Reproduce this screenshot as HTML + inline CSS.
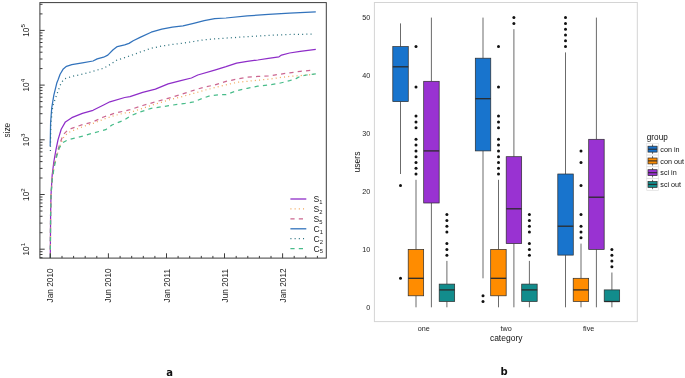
<!DOCTYPE html>
<html><head><meta charset="utf-8"><title>figure</title>
<style>html,body{margin:0;padding:0;background:#fff}svg{display:block}</style></head>
<body><svg width="685" height="378" viewBox="0 0 685 378">
<rect width="685" height="378" fill="#fff"/>
<g fill="none" stroke-width="1.25" stroke-linejoin="round">
<polyline points="50.3,258.0 50.6,215.0 51.0,195.0 52.2,175.0 53.8,162.0 55.9,150.0 58.0,139.9 61.2,129.3 65.4,121.9 71.8,117.7 82.4,113.4 93.0,110.3 103.6,105.0 109.9,101.8 124.7,97.5 130.0,96.6 142.7,92.4 155.4,89.2 168.1,83.9 180.8,80.7 191.4,78.0 197.8,75.0 214.7,70.1 226.0,66.7 236.6,63.1 247.2,61.4 257.8,60.0 268.4,58.3 279.0,56.8 281.5,55.1 289.6,53.0 300.2,51.3 315.8,49.4" stroke="#8E2DC8"/>
<polyline points="50.3,258.0 50.6,215.0 51.0,195.0 52.4,177.0 54.4,165.0 57.2,154.5 60.1,145.2 63.3,137.8 67.5,133.1 71.8,131.0 82.4,126.8 93.0,123.4 103.6,119.2 114.2,115.6 124.7,113.0 130.0,112.5 142.7,108.3 155.4,104.0 168.1,100.2 180.8,97.0 193.6,93.4 204.2,90.3 214.7,87.7 226.0,84.9 236.6,82.4 247.2,81.3 257.8,80.3 268.4,79.2 279.0,77.7 289.6,76.4 300.2,75.6 314.0,74.3" stroke="#F2A85C" stroke-dasharray="1.05 3.15"/>
<polyline points="50.3,258.0 50.6,215.0 51.0,195.0 52.4,176.0 54.2,164.0 57.0,153.0 60.1,143.0 63.3,134.6 67.5,130.4 71.8,128.3 82.4,124.7 93.0,121.9 103.6,117.0 114.2,113.4 124.7,110.9 130.0,109.7 142.7,105.5 155.4,101.9 168.1,98.3 180.8,94.5 193.6,90.3 204.2,87.1 214.7,85.0 226.0,81.3 236.6,79.2 247.2,77.1 257.8,76.4 268.4,76.0 279.0,74.3 289.6,72.8 300.2,71.4 314.0,70.1" stroke="#CC6690" stroke-dasharray="4.2 4.2"/>
<polyline points="50.2,146.3 50.6,123.0 51.7,108.1 53.8,95.4 56.9,82.7 58.0,80.0 60.1,74.2 63.3,68.9 66.5,66.3 71.8,64.6 82.4,62.9 93.0,61.0 97.2,58.9 103.6,57.2 107.8,55.1 113.1,49.8 117.3,46.6 124.7,44.9 129.0,43.4 133.2,40.7 140.6,37.1 151.2,32.2 161.8,29.2 172.4,27.1 183.0,25.8 193.6,23.3 204.2,20.6 214.7,18.6 226.0,18.0 247.2,15.9 268.4,14.4 289.6,13.1 315.8,11.9" stroke="#3273BC"/>
<polyline points="50.4,151.0 50.8,125.0 52.7,106.0 58.0,91.2 61.2,82.7 64.4,78.9 71.8,76.4 82.4,74.2 93.0,71.3 103.6,68.2 110.0,64.6 116.3,60.4 124.7,57.6 133.2,54.7 140.6,51.9 151.2,48.3 161.8,46.0 172.4,44.5 183.0,43.2 193.6,41.5 204.2,39.8 214.7,38.8 226.0,38.1 247.2,36.7 268.4,35.4 289.6,34.5 314.0,34.1" stroke="#2F7480" stroke-dasharray="1.05 3.15"/>
<polyline points="50.3,258.0 50.6,215.0 51.0,196.0 52.2,180.0 54.0,168.0 56.5,157.0 59.1,148.4 62.2,143.0 67.5,140.0 78.1,137.4 93.0,133.1 105.7,129.7 112.0,125.0 124.7,119.8 130.0,116.1 138.5,112.5 151.2,108.3 161.8,106.8 172.4,105.1 185.1,103.4 193.6,101.9 204.2,97.7 210.5,95.6 221.1,94.5 226.0,94.7 236.6,90.8 247.2,88.3 257.8,86.2 268.4,85.1 279.0,83.4 289.6,80.7 296.0,78.6 300.2,76.4 306.5,75.0 315.8,73.9" stroke="#48BC8A" stroke-dasharray="4.2 4.2"/>
</g>
<rect x="39.9" y="2.6" width="286.4" height="255.5" fill="none" stroke="#3c3c3c" stroke-width="1"/>
<path d="M39.9 257.7h2.6M39.9 254.5h2.6M39.9 251.7h2.6M39.9 249.2h4.8M39.9 232.7h2.6M39.9 223.1h2.6M39.9 216.3h2.6M39.9 211.0h2.6M39.9 206.6h2.6M39.9 203.0h2.6M39.9 199.8h2.6M39.9 197.0h2.6M39.9 194.5h4.8M39.9 178.0h2.6M39.9 168.4h2.6M39.9 161.6h2.6M39.9 156.3h2.6M39.9 151.9h2.6M39.9 148.3h2.6M39.9 145.1h2.6M39.9 142.3h2.6M39.9 139.8h4.8M39.9 123.3h2.6M39.9 113.7h2.6M39.9 106.9h2.6M39.9 101.6h2.6M39.9 97.2h2.6M39.9 93.6h2.6M39.9 90.4h2.6M39.9 87.6h2.6M39.9 85.1h4.8M39.9 68.6h2.6M39.9 59.0h2.6M39.9 52.2h2.6M39.9 46.9h2.6M39.9 42.5h2.6M39.9 38.9h2.6M39.9 35.7h2.6M39.9 32.9h2.6M39.9 30.4h4.8M39.9 13.9h2.6M39.9 4.3h2.6M50.4 258.1v-4.8M62.0 258.1v-2.2M73.6 258.1v-2.2M85.2 258.1v-2.2M96.8 258.1v-2.2M108.4 258.1v-4.8M120.1 258.1v-2.2M131.7 258.1v-2.2M143.3 258.1v-2.2M154.9 258.1v-2.2M166.5 258.1v-4.8M178.1 258.1v-2.2M189.7 258.1v-2.2M201.3 258.1v-2.2M212.9 258.1v-2.2M224.5 258.1v-4.8M236.2 258.1v-2.2M247.8 258.1v-2.2M259.4 258.1v-2.2M271.0 258.1v-2.2M282.6 258.1v-4.8M294.2 258.1v-2.2M305.8 258.1v-2.2M317.4 258.1v-2.2" stroke="#3c3c3c" stroke-width="1" fill="none"/>
<g font-family="Liberation Sans, sans-serif" font-size="8.3" fill="#222">
<text transform="translate(28.6 255.6) rotate(-90)">10<tspan font-size="6.2" dy="-3.2">1</tspan></text>
<text transform="translate(28.6 200.9) rotate(-90)">10<tspan font-size="6.2" dy="-3.2">2</tspan></text>
<text transform="translate(28.6 146.2) rotate(-90)">10<tspan font-size="6.2" dy="-3.2">3</tspan></text>
<text transform="translate(28.6 91.5) rotate(-90)">10<tspan font-size="6.2" dy="-3.2">4</tspan></text>
<text transform="translate(28.6 36.8) rotate(-90)">10<tspan font-size="6.2" dy="-3.2">5</tspan></text>
<text transform="translate(53.4 302.5) rotate(-90)">Jan 2010</text>
<text transform="translate(111.4 302.5) rotate(-90)">Jun 2010</text>
<text transform="translate(169.5 302.5) rotate(-90)">Jan 2011</text>
<text transform="translate(227.5 302.5) rotate(-90)">Jun 2011</text>
<text transform="translate(285.6 302.5) rotate(-90)">Jan 2012</text>
<text transform="translate(10 137.6) rotate(-90)">size</text>
<text x="313.5" y="202.0" font-size="8.6">S<tspan font-size="5.8" dy="1.8">1</tspan></text>
<text x="313.5" y="211.9" font-size="8.6">S<tspan font-size="5.8" dy="1.8">2</tspan></text>
<text x="313.5" y="221.8" font-size="8.6">S<tspan font-size="5.8" dy="1.8">5</tspan></text>
<text x="313.5" y="231.8" font-size="8.6">C<tspan font-size="5.8" dy="1.8">1</tspan></text>
<text x="313.5" y="241.7" font-size="8.6">C<tspan font-size="5.8" dy="1.8">2</tspan></text>
<text x="313.5" y="251.6" font-size="8.6">C<tspan font-size="5.8" dy="1.8">5</tspan></text>
</g>
<g fill="none" stroke-width="1.3">
<path d="M290.4 199.0H306.3" stroke="#8E2DC8"/>
<path d="M290.4 208.9H306.3" stroke="#F2A85C" stroke-dasharray="1.05 3.15"/>
<path d="M290.4 218.8H306.3" stroke="#CC6690" stroke-dasharray="4.2 4.2"/>
<path d="M290.4 228.8H306.3" stroke="#3273BC"/>
<path d="M290.4 238.7H306.3" stroke="#2F7480" stroke-dasharray="1.05 3.15"/>
<path d="M290.4 248.6H306.3" stroke="#48BC8A" stroke-dasharray="4.2 4.2"/>
</g>
<text x="169.5" y="375.6" text-anchor="middle" font-family="DejaVu Sans, sans-serif" font-weight="bold" font-size="10" fill="#111">a</text>
<rect x="374.4" y="2.5" width="262.9" height="319.1" fill="#fff" stroke="#d4d4d4" stroke-width="1"/>
<path d="M400.5 23.4V46.6M400.5 101.6V174.0" stroke="#2b2b2b" stroke-width="0.7" fill="none"/>
<rect x="392.8" y="46.6" width="15.47" height="55.0" fill="#1874CD" stroke="#2b2b2b" stroke-width="0.7"/>
<path d="M392.8 66.8h15.47" stroke="#2b2b2b" stroke-width="1.3" fill="none"/>
<circle cx="400.5" cy="185.6" r="1.5" fill="#111"/>
<circle cx="400.5" cy="278.3" r="1.5" fill="#111"/>
<path d="M416.0 179.8V249.4M416.0 295.7V307.3" stroke="#2b2b2b" stroke-width="0.7" fill="none"/>
<rect x="408.2" y="249.4" width="15.47" height="46.4" fill="#FF8C00" stroke="#2b2b2b" stroke-width="0.7"/>
<path d="M408.2 278.3h15.47" stroke="#2b2b2b" stroke-width="1.3" fill="none"/>
<circle cx="416.0" cy="46.6" r="1.5" fill="#111"/>
<circle cx="416.0" cy="87.1" r="1.5" fill="#111"/>
<circle cx="416.0" cy="116.1" r="1.5" fill="#111"/>
<circle cx="416.0" cy="121.9" r="1.5" fill="#111"/>
<circle cx="416.0" cy="127.7" r="1.5" fill="#111"/>
<circle cx="416.0" cy="139.3" r="1.5" fill="#111"/>
<circle cx="416.0" cy="145.1" r="1.5" fill="#111"/>
<circle cx="416.0" cy="150.9" r="1.5" fill="#111"/>
<circle cx="416.0" cy="156.7" r="1.5" fill="#111"/>
<circle cx="416.0" cy="162.5" r="1.5" fill="#111"/>
<circle cx="416.0" cy="168.2" r="1.5" fill="#111"/>
<circle cx="416.0" cy="174.0" r="1.5" fill="#111"/>
<path d="M431.4 17.6V81.3M431.4 203.0V307.3" stroke="#2b2b2b" stroke-width="0.7" fill="none"/>
<rect x="423.7" y="81.3" width="15.47" height="121.7" fill="#9932D2" stroke="#2b2b2b" stroke-width="0.7"/>
<path d="M423.7 150.9h15.47" stroke="#2b2b2b" stroke-width="1.3" fill="none"/>
<path d="M446.9 260.9V284.1M446.9 301.5V307.3" stroke="#2b2b2b" stroke-width="0.7" fill="none"/>
<rect x="439.2" y="284.1" width="15.47" height="17.4" fill="#128C8C" stroke="#2b2b2b" stroke-width="0.7"/>
<path d="M439.2 289.9h15.47" stroke="#2b2b2b" stroke-width="1.3" fill="none"/>
<circle cx="446.9" cy="214.6" r="1.5" fill="#111"/>
<circle cx="446.9" cy="220.4" r="1.5" fill="#111"/>
<circle cx="446.9" cy="226.2" r="1.5" fill="#111"/>
<circle cx="446.9" cy="232.0" r="1.5" fill="#111"/>
<circle cx="446.9" cy="243.6" r="1.5" fill="#111"/>
<circle cx="446.9" cy="249.4" r="1.5" fill="#111"/>
<circle cx="446.9" cy="255.2" r="1.5" fill="#111"/>
<path d="M483.0 17.6V58.2M483.0 150.9V278.3" stroke="#2b2b2b" stroke-width="0.7" fill="none"/>
<rect x="475.3" y="58.2" width="15.47" height="92.7" fill="#1874CD" stroke="#2b2b2b" stroke-width="0.7"/>
<path d="M475.3 98.7h15.47" stroke="#2b2b2b" stroke-width="1.3" fill="none"/>
<circle cx="483.0" cy="295.7" r="1.5" fill="#111"/>
<circle cx="483.0" cy="301.5" r="1.5" fill="#111"/>
<path d="M498.5 179.8V249.4M498.5 295.7V307.3" stroke="#2b2b2b" stroke-width="0.7" fill="none"/>
<rect x="490.7" y="249.4" width="15.47" height="46.4" fill="#FF8C00" stroke="#2b2b2b" stroke-width="0.7"/>
<path d="M490.7 278.3h15.47" stroke="#2b2b2b" stroke-width="1.3" fill="none"/>
<circle cx="498.5" cy="46.6" r="1.5" fill="#111"/>
<circle cx="498.5" cy="87.1" r="1.5" fill="#111"/>
<circle cx="498.5" cy="116.1" r="1.5" fill="#111"/>
<circle cx="498.5" cy="121.9" r="1.5" fill="#111"/>
<circle cx="498.5" cy="127.7" r="1.5" fill="#111"/>
<circle cx="498.5" cy="139.3" r="1.5" fill="#111"/>
<circle cx="498.5" cy="145.1" r="1.5" fill="#111"/>
<circle cx="498.5" cy="150.9" r="1.5" fill="#111"/>
<circle cx="498.5" cy="156.7" r="1.5" fill="#111"/>
<circle cx="498.5" cy="162.5" r="1.5" fill="#111"/>
<circle cx="498.5" cy="168.2" r="1.5" fill="#111"/>
<circle cx="498.5" cy="174.0" r="1.5" fill="#111"/>
<path d="M513.9 29.2V156.7M513.9 243.6V307.3" stroke="#2b2b2b" stroke-width="0.7" fill="none"/>
<rect x="506.2" y="156.7" width="15.47" height="86.9" fill="#9932D2" stroke="#2b2b2b" stroke-width="0.7"/>
<path d="M506.2 208.8h15.47" stroke="#2b2b2b" stroke-width="1.3" fill="none"/>
<circle cx="513.9" cy="17.6" r="1.5" fill="#111"/>
<circle cx="513.9" cy="23.4" r="1.5" fill="#111"/>
<path d="M529.4 260.9V284.1M529.4 301.5V307.3" stroke="#2b2b2b" stroke-width="0.7" fill="none"/>
<rect x="521.7" y="284.1" width="15.47" height="17.4" fill="#128C8C" stroke="#2b2b2b" stroke-width="0.7"/>
<path d="M521.7 289.9h15.47" stroke="#2b2b2b" stroke-width="1.3" fill="none"/>
<circle cx="529.4" cy="214.6" r="1.5" fill="#111"/>
<circle cx="529.4" cy="220.4" r="1.5" fill="#111"/>
<circle cx="529.4" cy="226.2" r="1.5" fill="#111"/>
<circle cx="529.4" cy="232.0" r="1.5" fill="#111"/>
<circle cx="529.4" cy="243.6" r="1.5" fill="#111"/>
<circle cx="529.4" cy="249.4" r="1.5" fill="#111"/>
<circle cx="529.4" cy="255.2" r="1.5" fill="#111"/>
<path d="M565.5 52.4V174.0M565.5 255.2V307.3" stroke="#2b2b2b" stroke-width="0.7" fill="none"/>
<rect x="557.8" y="174.0" width="15.47" height="81.1" fill="#1874CD" stroke="#2b2b2b" stroke-width="0.7"/>
<path d="M557.8 226.2h15.47" stroke="#2b2b2b" stroke-width="1.3" fill="none"/>
<circle cx="565.5" cy="17.6" r="1.5" fill="#111"/>
<circle cx="565.5" cy="23.4" r="1.5" fill="#111"/>
<circle cx="565.5" cy="29.2" r="1.5" fill="#111"/>
<circle cx="565.5" cy="35.0" r="1.5" fill="#111"/>
<circle cx="565.5" cy="40.8" r="1.5" fill="#111"/>
<circle cx="565.5" cy="46.6" r="1.5" fill="#111"/>
<path d="M581.0 243.6V278.3M581.0 301.5V307.3" stroke="#2b2b2b" stroke-width="0.7" fill="none"/>
<rect x="573.2" y="278.3" width="15.47" height="23.2" fill="#FF8C00" stroke="#2b2b2b" stroke-width="0.7"/>
<path d="M573.2 289.9h15.47" stroke="#2b2b2b" stroke-width="1.3" fill="none"/>
<circle cx="581.0" cy="150.9" r="1.5" fill="#111"/>
<circle cx="581.0" cy="162.5" r="1.5" fill="#111"/>
<circle cx="581.0" cy="185.6" r="1.5" fill="#111"/>
<circle cx="581.0" cy="214.6" r="1.5" fill="#111"/>
<circle cx="581.0" cy="226.2" r="1.5" fill="#111"/>
<circle cx="581.0" cy="232.0" r="1.5" fill="#111"/>
<circle cx="581.0" cy="237.8" r="1.5" fill="#111"/>
<path d="M596.4 17.6V139.3M596.4 249.4V307.3" stroke="#2b2b2b" stroke-width="0.7" fill="none"/>
<rect x="588.7" y="139.3" width="15.47" height="110.1" fill="#9932D2" stroke="#2b2b2b" stroke-width="0.7"/>
<path d="M588.7 197.2h15.47" stroke="#2b2b2b" stroke-width="1.3" fill="none"/>
<path d="M611.9 272.5V289.9M611.9 301.5V307.3" stroke="#2b2b2b" stroke-width="0.7" fill="none"/>
<rect x="604.2" y="289.9" width="15.47" height="11.6" fill="#128C8C" stroke="#2b2b2b" stroke-width="0.7"/>
<path d="M604.2 301.5h15.47" stroke="#2b2b2b" stroke-width="1.3" fill="none"/>
<circle cx="611.9" cy="249.4" r="1.5" fill="#111"/>
<circle cx="611.9" cy="255.2" r="1.5" fill="#111"/>
<circle cx="611.9" cy="260.9" r="1.5" fill="#111"/>
<circle cx="611.9" cy="266.7" r="1.5" fill="#111"/>
<g font-family="Liberation Sans, sans-serif" font-size="7.2" fill="#1c1c1c">
<text x="370.3" y="309.9" text-anchor="end">0</text>
<text x="370.3" y="252.0" text-anchor="end">10</text>
<text x="370.3" y="194.0" text-anchor="end">20</text>
<text x="370.3" y="136.1" text-anchor="end">30</text>
<text x="370.3" y="78.1" text-anchor="end">40</text>
<text x="370.3" y="20.2" text-anchor="end">50</text>
<text x="423.7" y="331.2" text-anchor="middle">one</text>
<text x="506.2" y="331.2" text-anchor="middle">two</text>
<text x="588.7" y="331.2" text-anchor="middle">five</text>
</g>
<g font-family="Liberation Sans, sans-serif" font-size="8.5" fill="#111">
<text x="506.2" y="340.5" text-anchor="middle">category</text>
<text transform="translate(360 162) rotate(-90)" text-anchor="middle">users</text>
<text x="646.8" y="139.6" font-size="8.2">group</text>
</g>
<rect x="646.8" y="143.3" width="11.5" height="11.75" fill="#fff" stroke="#d9d9d9" stroke-width="0.6"/>
<path d="M652.55 144.5v9.4" stroke="#2b2b2b" stroke-width="0.7"/>
<rect x="648" y="146.2" width="9.1" height="5.9" fill="#1874CD" stroke="#2b2b2b" stroke-width="0.7"/>
<path d="M648 149.2h9.1" stroke="#2b2b2b" stroke-width="1.1"/>
<text x="660.3" y="151.7" font-family="Liberation Sans, sans-serif" font-size="7.2" fill="#111">con in</text>
<rect x="646.8" y="155.1" width="11.5" height="11.75" fill="#fff" stroke="#d9d9d9" stroke-width="0.6"/>
<path d="M652.55 156.2v9.4" stroke="#2b2b2b" stroke-width="0.7"/>
<rect x="648" y="158.0" width="9.1" height="5.9" fill="#FF8C00" stroke="#2b2b2b" stroke-width="0.7"/>
<path d="M648 160.9h9.1" stroke="#2b2b2b" stroke-width="1.1"/>
<text x="660.3" y="163.5" font-family="Liberation Sans, sans-serif" font-size="7.2" fill="#111">con out</text>
<rect x="646.8" y="166.8" width="11.5" height="11.75" fill="#fff" stroke="#d9d9d9" stroke-width="0.6"/>
<path d="M652.55 168.0v9.4" stroke="#2b2b2b" stroke-width="0.7"/>
<rect x="648" y="169.7" width="9.1" height="5.9" fill="#9932D2" stroke="#2b2b2b" stroke-width="0.7"/>
<path d="M648 172.7h9.1" stroke="#2b2b2b" stroke-width="1.1"/>
<text x="660.3" y="175.2" font-family="Liberation Sans, sans-serif" font-size="7.2" fill="#111">sci in</text>
<rect x="646.8" y="178.6" width="11.5" height="11.75" fill="#fff" stroke="#d9d9d9" stroke-width="0.6"/>
<path d="M652.55 179.8v9.4" stroke="#2b2b2b" stroke-width="0.7"/>
<rect x="648" y="181.5" width="9.1" height="5.9" fill="#128C8C" stroke="#2b2b2b" stroke-width="0.7"/>
<path d="M648 184.4h9.1" stroke="#2b2b2b" stroke-width="1.1"/>
<text x="660.3" y="187.0" font-family="Liberation Sans, sans-serif" font-size="7.2" fill="#111">sci out</text>
<text x="504" y="375.4" text-anchor="middle" font-family="DejaVu Sans, sans-serif" font-weight="bold" font-size="10" fill="#111">b</text>
</svg></body></html>
